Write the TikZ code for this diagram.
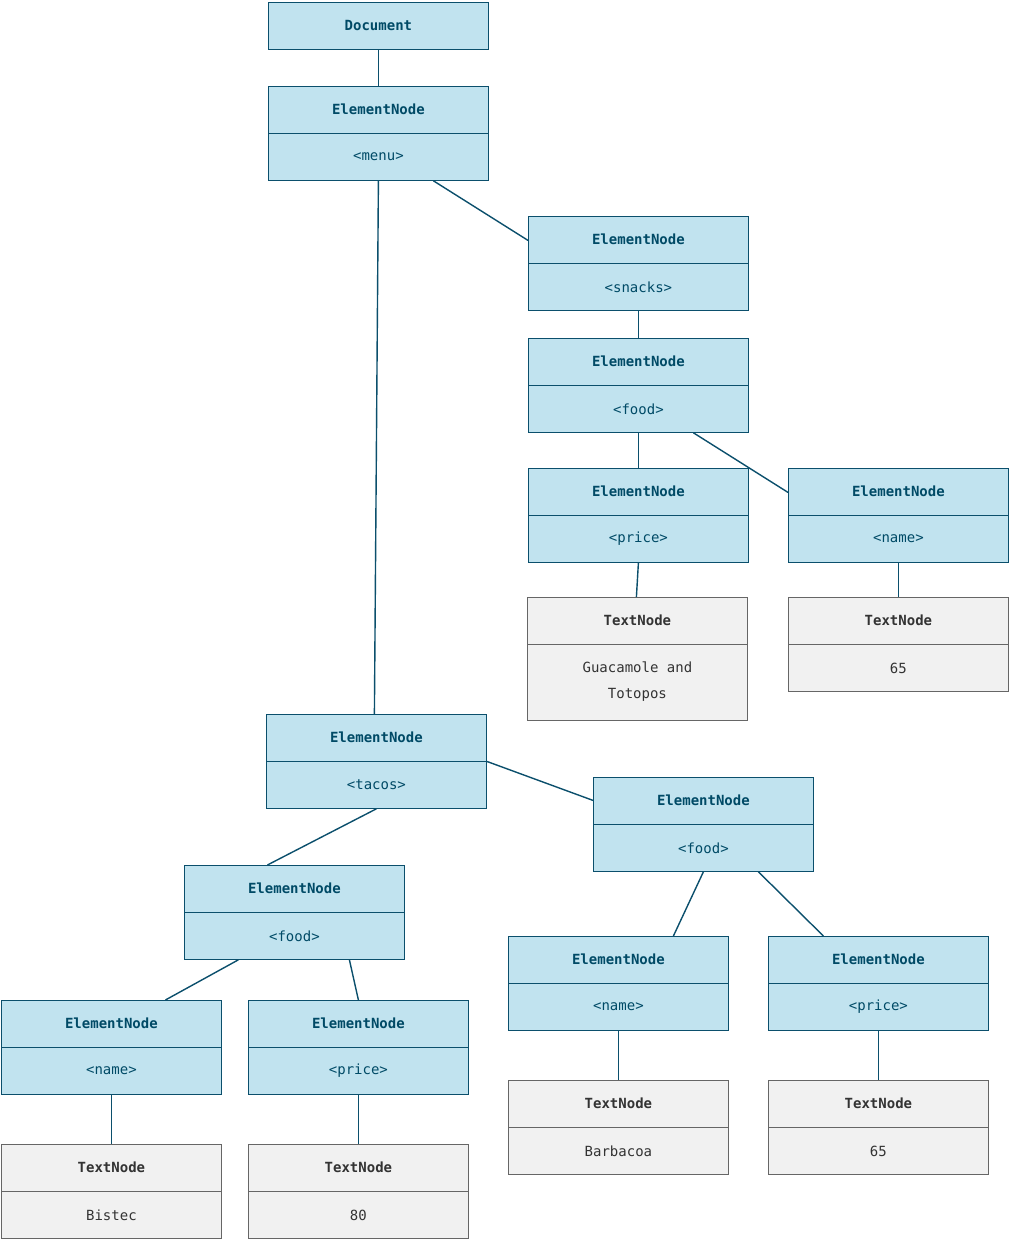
\documentclass[tikz,border=0pt]{standalone}
\usepackage{fontspec}
\setmonofont{DejaVu Sans Mono}
\definecolor{efill}{HTML}{C1E3EF}
\definecolor{edraw}{HTML}{0B4F6C}
\definecolor{etext}{HTML}{004A66}
\definecolor{tfill}{HTML}{F1F1F1}
\definecolor{tdraw}{HTML}{666666}
\definecolor{ttext}{HTML}{333333}
\tikzset{
 ebox/.style={draw=edraw,fill=efill,line width=0.8pt,minimum width=220pt,anchor=north west,inner sep=0pt},
 tbox/.style={draw=tdraw,fill=tfill,line width=0.8pt,minimum width=220pt,anchor=north west,inner sep=0pt},
 link/.style={draw=edraw,line width=1.4pt}
}
\newcommand{\mybox}[8]{% style, name, x, y, height, title, body, colour
 \node[#1,minimum height=#5pt] (#2) at (#3,-#4) {};
 \draw[#1] ($(#2.north west)+(0,-47)$) -- ($(#2.north east)+(0,-47)$);
 \node[text=#8,font=\ttfamily\bfseries\fontsize{14}{16}\selectfont] at ($(#2.north)+(0,-23.5)$) {#6};
 \node[text=#8,font=\ttfamily\fontsize{14}{16}\selectfont,align=center] at ($(#2.north)!0.5!(#2.south)+(0,-23.5)$) {#7};
}
\usetikzlibrary{calc}
\begin{document}
\begin{tikzpicture}[x=1pt,y=1pt]
\useasboundingbox (0,0) rectangle (1009,-1239);
\node[ebox,minimum height=47pt,text=etext,font=\ttfamily\bfseries\fontsize{14}{16}\selectfont,anchor=north west] (doc) at (268,-2) {\makebox[220pt]{Document}};
\mybox{ebox}{menu}{268}{86}{94}{ElementNode}{<menu>}{etext}
\mybox{ebox}{snacks}{528}{216}{94}{ElementNode}{<snacks>}{etext}
\mybox{ebox}{food1}{528}{338}{94}{ElementNode}{<food>}{etext}
\mybox{ebox}{price1}{528}{468}{94}{ElementNode}{<price>}{etext}
\mybox{ebox}{name1}{788}{468}{94}{ElementNode}{<name>}{etext}
\node[tbox,minimum height=123pt] (guac) at (527,-597) {};
\draw[tbox] ($(guac.north west)+(0,-47)$) -- ($(guac.north east)+(0,-47)$);
\node[text=ttext,font=\ttfamily\bfseries\fontsize{14}{16}\selectfont] at ($(guac.north)+(0,-23.5)$) {TextNode};
\node[text=ttext,font=\ttfamily\fontsize{14}{26}\selectfont,align=center] at ($(guac.north)+(0,-85)$) {Guacamole and\\Totopos};
\mybox{tbox}{t65a}{788}{597}{94}{TextNode}{65}{ttext}
\mybox{ebox}{tacos}{266}{714}{94}{ElementNode}{<tacos>}{etext}
\mybox{ebox}{food2}{593}{777}{94}{ElementNode}{<food>}{etext}
\mybox{ebox}{food3}{184}{865}{94}{ElementNode}{<food>}{etext}
\mybox{ebox}{name2}{508}{936}{94}{ElementNode}{<name>}{etext}
\mybox{ebox}{price2}{768}{936}{94}{ElementNode}{<price>}{etext}
\mybox{tbox}{barb}{508}{1080}{94}{TextNode}{Barbacoa}{ttext}
\mybox{tbox}{t65b}{768}{1080}{94}{TextNode}{65}{ttext}
\mybox{ebox}{name3}{1}{1000}{94}{ElementNode}{<name>}{etext}
\mybox{ebox}{price3}{248}{1000}{94}{ElementNode}{<price>}{etext}
\mybox{tbox}{bistec}{1}{1144}{94}{TextNode}{Bistec}{ttext}
\mybox{tbox}{t80}{248}{1144}{94}{TextNode}{80}{ttext}
% links
\draw[link] (doc.south) -- (menu.north);
\draw[link] (menu.south) -- ([xshift=-2]tacos.north);
\draw[link] ([xshift=55]menu.south) -- ([yshift=23]snacks.west);
\draw[link] (snacks.south) -- (food1.north);
\draw[link] (food1.south) -- (price1.north);
\draw[link] ([xshift=55]food1.south) -- ([yshift=23]name1.west);
\draw[link] (price1.south) -- ([xshift=-1]guac.north);
\draw[link] (name1.south) -- (t65a.north);
\draw[link] (tacos.east) -- ([yshift=24]food2.west);
\draw[link] (tacos.south) -- ([xshift=-27]food3.north);
\draw[link] (food2.south) -- ([xshift=55]name2.north);
\draw[link] ([xshift=55]food2.south) -- ([xshift=-55]price2.north);
\draw[link] ([xshift=-56]food3.south) -- ([xshift=54]name3.north);
\draw[link] ([xshift=55]food3.south) -- (price3.north);
\draw[link] (name2.south) -- (barb.north);
\draw[link] (price2.south) -- (t65b.north);
\draw[link] (name3.south) -- (bistec.north);
\draw[link] (price3.south) -- (t80.north);
\end{tikzpicture}
\end{document}
